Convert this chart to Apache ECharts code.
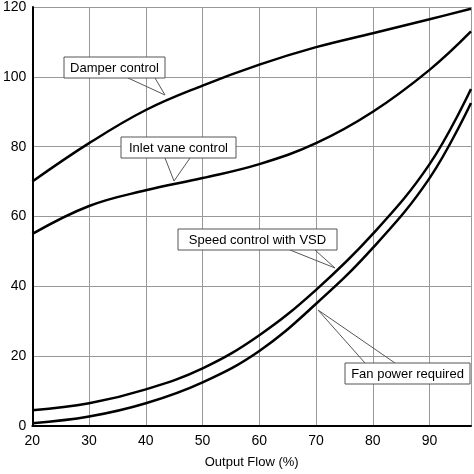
<!DOCTYPE html><html><head><meta charset="utf-8">
<script src="https://cdn.jsdelivr.net/npm/echarts@6/dist/echarts.min.js"></script>
<style>html,body{margin:0;padding:0;background:#fff}#c{width:474px;height:474px}</style></head><body><div id="c"></div>
<script>
const xs=[20,30,40,50,60,70,80,90,97.3];
const damper=[70,81,90.5,97.5,103.5,108.5,112.5,116.5,119.5];
const inletVane=[55,63,67.5,71,75,81,90,102,113];
const speedVSD=[4.5,6.5,10.5,16.5,26,39,55,75,96.5];
const fanPower=[0.8,2.7,6.5,12.5,21.5,35,51,71,92.5];
const yTicks=[0,20,40,60,80,100,120];
const pair=a=>xs.map((x,i)=>[x,a[i]]);
const F='"Liberation Sans",Arial,sans-serif';
const ch=echarts.init(document.getElementById('c'));
const ls={color:'#000',width:2.5};
function series(d){return {type:'line',data:pair(d),smooth:0.4,showSymbol:false,lineStyle:ls,silent:true};}
function box(txt,x,y,w){return {type:'group',children:[
 {type:'rect',shape:{x:x,y:y,width:w,height:21},style:{fill:'#fff',stroke:'#555',lineWidth:1},z:10},
 {type:'text',x:x+w/2,y:y+11,style:{text:txt,font:'13px '+F,fill:'#000',align:'center',verticalAlign:'middle'},z:11}]};}
function wedge(p){return {type:'polyline',shape:{points:p},style:{stroke:'#555',lineWidth:1,fill:null},z:9};}
ch.setOption({
 animation:false,
 grid:{left:26,right:0,top:5,bottom:46},
 xAxis:{type:'value',min:20,max:97.3,interval:10,name:'Output Flow (%)',nameLocation:'middle',nameGap:30,
  nameTextStyle:{color:'#000',fontSize:13,fontFamily:F},
  axisLine:{lineStyle:{color:'#000',width:2}},axisTick:{show:false},
  axisLabel:{color:'#000',fontSize:14,fontFamily:F,margin:8,formatter:v=>v>95?'':v},
  splitLine:{lineStyle:{color:'#999',width:1}}},
 yAxis:{type:'value',min:0,max:120,interval:20,
  axisLine:{show:true,lineStyle:{color:'#000',width:2}},axisTick:{show:false},
  axisLabel:{color:'#000',fontSize:14,fontFamily:F,margin:6},
  splitLine:{lineStyle:{color:'#999',width:1}}},
 series:[series(damper),series(inletVane),series(speedVSD),series(fanPower)],
 graphic:[
  wedge([[128,78],[165,95],[155,78]]),box('Damper control',64,57,101),
  wedge([[165,158],[174,181],[190,158]]),box('Inlet vane control',121,137,115),
  wedge([[290,250],[335,268],[315,250]]),box('Speed control with VSD',178,229,159),
  wedge([[365,363],[318,310],[395,363]]),box('Fan power required',345,363,125)
 ]
});
</script></body></html>
